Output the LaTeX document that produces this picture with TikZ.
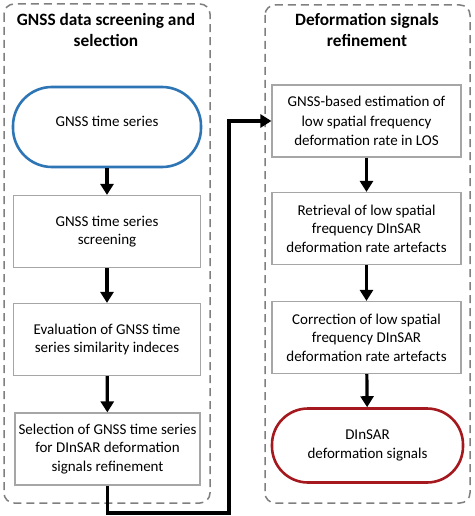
\documentclass[tikz,border=0pt]{standalone}
\usepackage{fontspec}
\setmainfont{Carlito}
\usetikzlibrary{arrows.meta}
\definecolor{gblue}{HTML}{2E75B6}
\definecolor{gred}{HTML}{A5191E}
\definecolor{bgray}{HTML}{A6A6A6}
\definecolor{dgray}{HTML}{7F7F7F}
\begin{document}
\begin{tikzpicture}[x=1pt,y=-1pt,
  container/.style={draw=dgray,line width=1.5pt,dash pattern=on 8pt off 5pt,rounded corners=10pt},
  title/.style={font=\fontsize{17.3}{21}\selectfont\bfseries,align=center},
  stepbox/.style={draw=bgray,line width=1.2pt,minimum width=187pt,minimum height=72pt,align=center,font=\fontsize{15}{18.5}\selectfont,inner sep=1pt},
  term/.style={stepbox,line width=2.6pt,rounded corners=36pt},
  flow/.style={line width=3.2pt,-{Triangle[width=13pt,length=11pt]}}
]
\useasboundingbox (0,0) rectangle (474,516);
\draw[container] (4,4) rectangle (210,503);
\draw[container] (265,5) rectangle (470,503);
\node[title] (t1) at (106,30) {GNSS data screening and\\selection};
\node[title] (t2) at (367,30) {Deformation signals\\refinement};

\node[term,draw=gblue,minimum width=188pt,minimum height=80pt,rounded corners=39pt,text height=11pt,text depth=13pt] (l1) at (107,127) {GNSS time series};
\node[stepbox] (l2) at (107,231.5) {GNSS time series\\screening};
\node[stepbox] (l3) at (107,339.5) {Evaluation of GNSS time\\series similarity indeces};
\node[stepbox,minimum width=185pt] (l4) at (107.5,449) {Selection of GNSS time series\\for DInSAR deformation\\signals refinement};

\node[stepbox,minimum width=189pt,font=\fontsize{15}{19.5}\selectfont] (r1) at (366.5,121) {GNSS-based estimation of\\low spatial frequency\\deformation rate in LOS};
\node[stepbox,minimum width=189pt] (r2) at (366.5,228.5) {Retrieval of low spatial\\frequency DInSAR\\deformation rate artefacts};
\node[stepbox,minimum width=189pt] (r3) at (366.5,337.5) {Correction of low spatial\\frequency DInSAR\\deformation rate artefacts};
\node[term,draw=gred,minimum width=191pt,minimum height=74pt] (r4) at (367.5,445.5) {DInSAR\\deformation signals};

\draw[flow] (l1) -- (l2);
\draw[flow] (l2) -- (l3);
\draw[flow] (l3) -- (l4);
\draw[flow] (r1) -- (r2);
\draw[flow] (r2) -- (r3);
\draw[flow] (r3) -- (r4);

\coordinate (c1) at (229,513);
\draw[flow,line width=3.5pt,line join=miter] (l4.south) |- (c1) |- (r1.west);
\end{tikzpicture}
\end{document}
